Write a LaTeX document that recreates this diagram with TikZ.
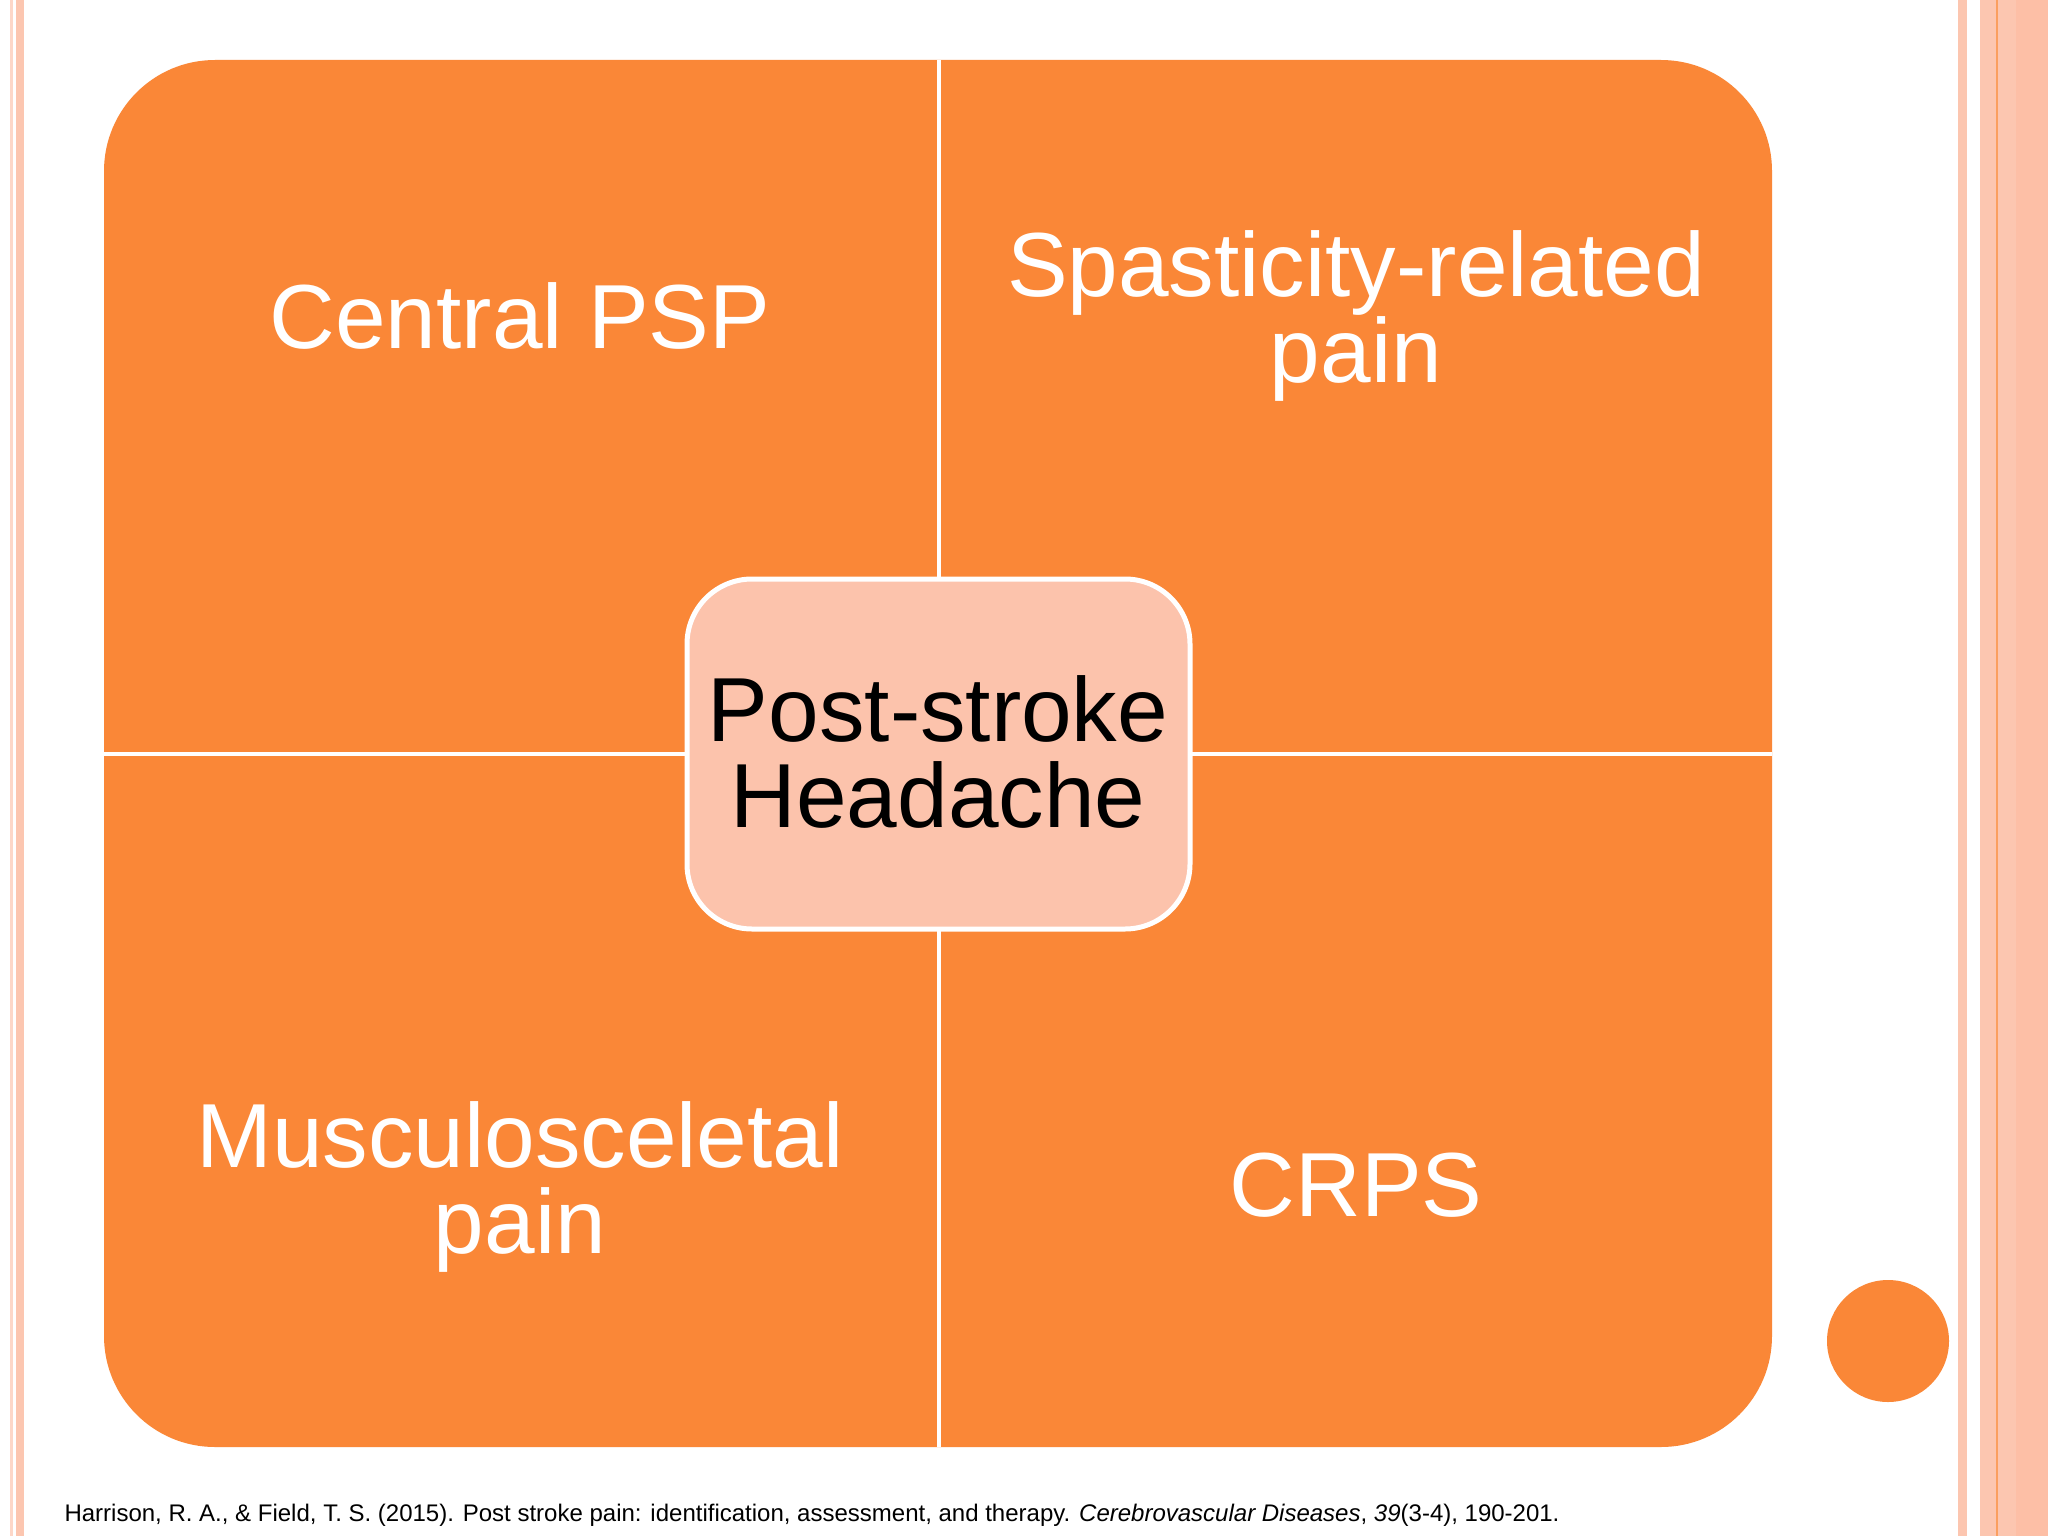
\documentclass[tikz,border=0pt]{standalone}
\usepackage{fontspec}
\setmainfont{Liberation Sans}
\definecolor{org}{HTML}{FA8737}
\definecolor{pk}{HTML}{FCC3AC}
\definecolor{sal}{HTML}{FCC6B0}
\definecolor{sal2}{HTML}{FDBFA6}
\begin{document}
\begin{tikzpicture}[x=1pt,y=-1pt,
  big/.style={font=\fontsize{91}{86}\selectfont,align=center,text=white},
  sep/.style={white,line width=4pt}]
\useasboundingbox (0,0) rectangle (2048,1536);
\fill[white] (0,0) rectangle (2048,1536);
% stripes
\fill[sal!70] (10,0) rectangle (13,1536);
\fill[sal] (16,0) rectangle (24,1536);
\fill[sal] (1958,0) rectangle (1967,1536);
\fill[sal] (1980,0) rectangle (2016,1536);
\fill[sal2] (2016,0) rectangle (2048,1536);
\fill[org!80] (1996,0) rectangle (1998,1536);
% main
\fill[org,rounded corners=111pt] (104,60) rectangle (1772,1447);
\coordinate (t) at (939,60); \coordinate (b) at (939,1447);
\coordinate (l) at (104,754); \coordinate (r) at (1772,754);
\draw[sep] (t) -- (b);
\draw[sep] (l) -- (r);
\node[draw=white,line width=5pt,fill=pk,rounded corners=65pt,minimum width=503pt,minimum height=350pt] (c) at (938.5,754) {};
\node[big,text=black] (ct) at (938,752) {Post-stroke\\Headache};
\node[big] (q1) at (520,316) {Central PSP};
\node[big] (q2) at (1356,316) {Spasticity-related\\pain};
\node[big] (q3) at (520,1187) {Musculosceletal\\pain};
\node[big] (q4) at (1356,1185) {CRPS};
\fill[org] (1888,1341) circle (61);
\node[anchor=base west,font=\fontsize{24}{28}\selectfont] (ref) at (61,1521) {Harrison, R. A., \& Field, T. S. (2015). Post stroke pain: identification, assessment, and therapy. \textit{Cerebrovascular Diseases}, \textit{39}(3-4), 190-201.};
\end{tikzpicture}
\end{document}
